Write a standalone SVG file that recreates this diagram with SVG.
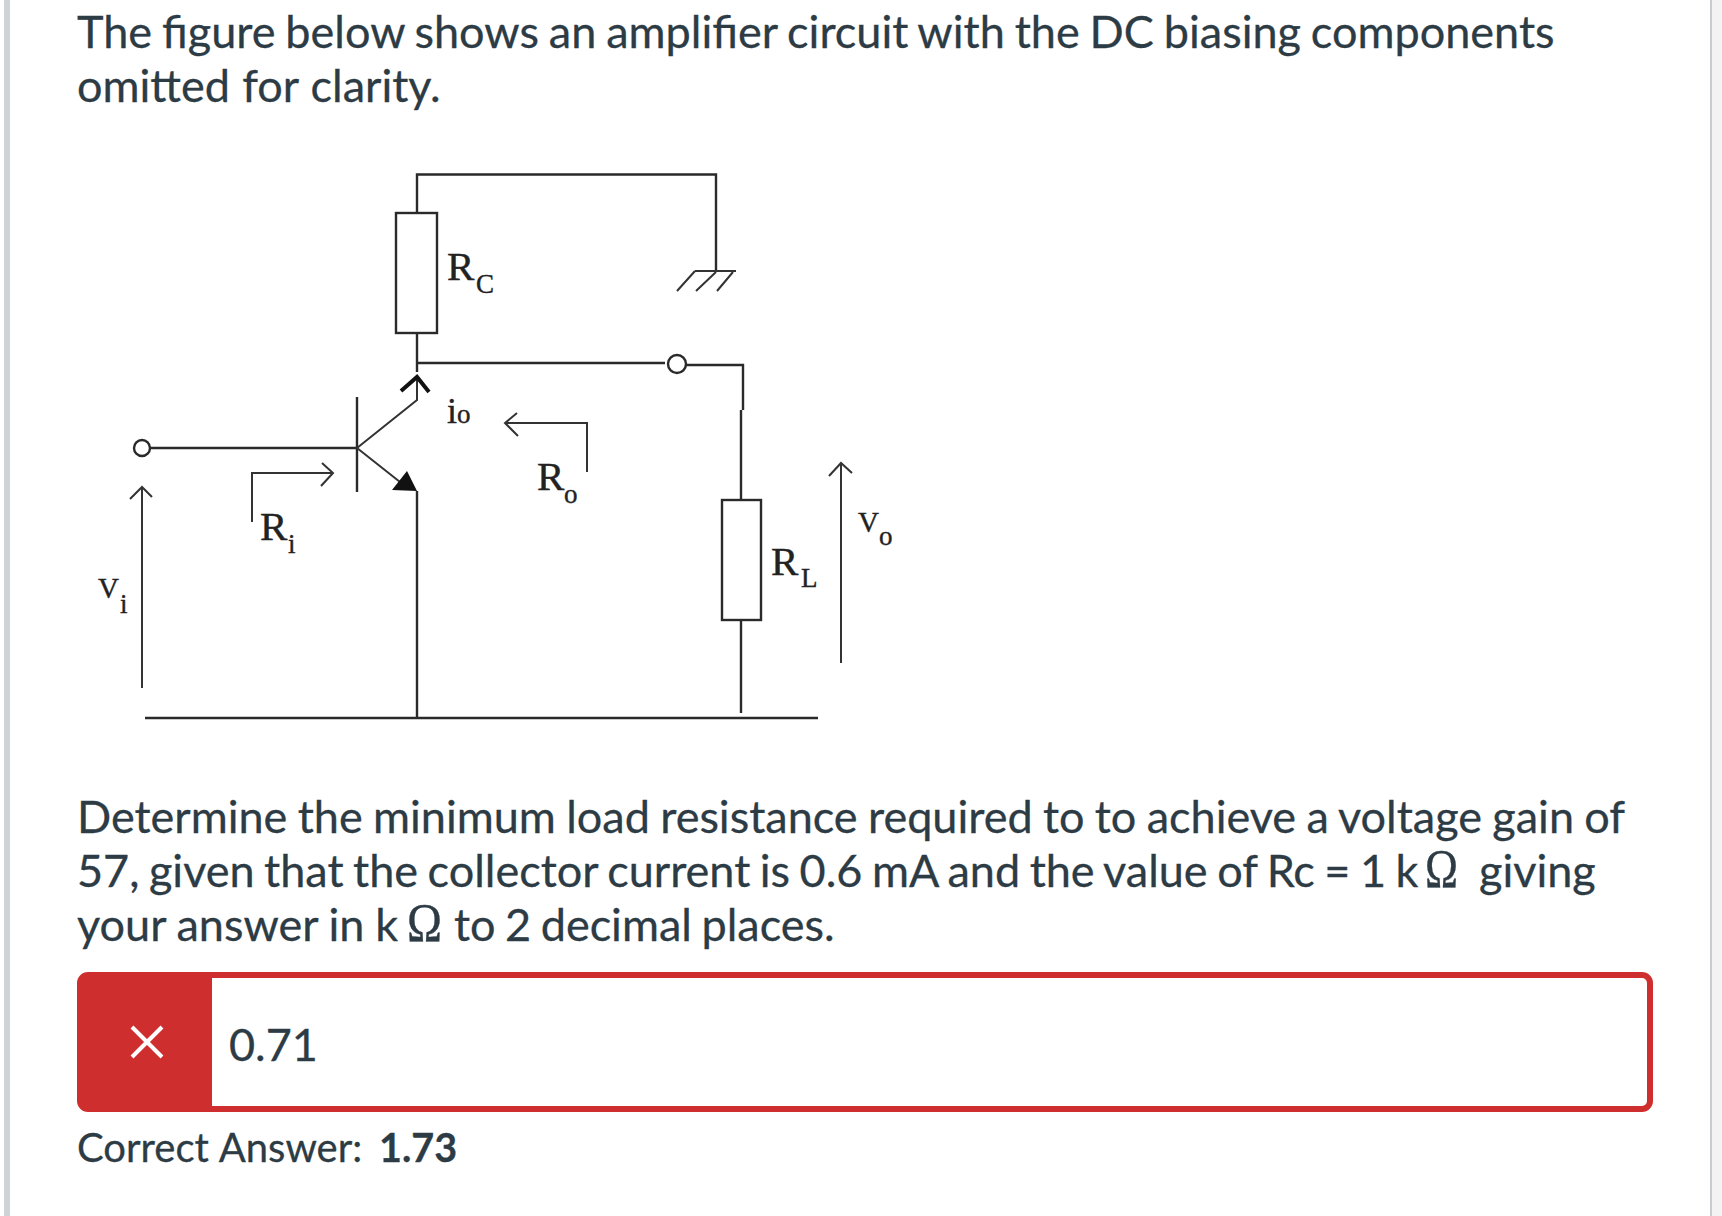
<svg xmlns="http://www.w3.org/2000/svg" width="1722" height="1216" viewBox="0 0 1722 1216">
<style>
.t{font-family:Lato,"Noto Sans",sans-serif;fill:#2d3b45;font-size:45px;word-spacing:-1.4px;stroke:#2d3b45;stroke-width:.3px}
.s{font-family:"Liberation Serif",serif;fill:#222;stroke:#222;stroke-width:.4px}
.o{fill:#2d3b45;stroke:#2d3b45;font-size:55px}
.r{font-size:41px}.u{font-size:27px}
.w{fill:none;stroke:#2a2a2a;stroke-width:2.4}
.a{fill:none;stroke:#333;stroke-width:2}
</style>
<rect width="1722" height="1216" fill="#fff"/>
<g id="frame">
<rect x="4" y="0" width="6" height="1216" fill="#cdd3d6"/>
<rect x="1710" y="0" width="2" height="1216" fill="#c8cccf"/>
<rect x="1712" y="0" width="10" height="1216" fill="#f3f3f3"/>
</g>
<g id="question">
<text class="t" x="77" y="48" style="word-spacing:-1.6px">The figure below shows an amplifier circuit with the DC biasing components</text>
<text class="t" x="77" y="102" style="word-spacing:.8px">omitted for clarity.</text>
<text class="t" x="77" y="833" style="word-spacing:-1.2px">Determine the minimum load resistance required to to achieve a voltage gain of</text>
<text class="t" x="77" y="887" style="word-spacing:-2px">57, given that the collector current is 0.6 mA and the value of Rc = 1 k</text>
<text class="s o" x="1425" y="887" textLength="33" lengthAdjust="spacingAndGlyphs">Ω</text>
<text class="t" x="1479" y="887">giving</text>
<text class="t" x="77" y="941" style="word-spacing:-.7px">your answer in k</text>
<text class="s o" x="407" y="941" textLength="35" lengthAdjust="spacingAndGlyphs">Ω</text>
<text class="t" x="454" y="941" style="word-spacing:-2px">to 2 decimal places.</text>
</g>
<g id="connectors">
<path class="w" d="M417 213V174.500H716V271"/>
<path class="w" d="M417 333V372M417 363H665M686 365H743V410M741 410V500M741 620V713"/>
<path class="w" d="M150 448H357M357 397V492"/>
<path class="a" d="M357 448L417 400V376M357 448L400 482"/>
<path class="w" d="M417 491V718M145 718H818"/>
<path d="M401 391L417 377L429 392" fill="none" stroke="#111" stroke-width="4"/>
<path d="M407 471L392 490L417 491Z" fill="#111"/>
<path class="a" d="M252 522V473H333M322 463L333 473L321 486"/>
<path class="a" d="M142 688V487M130 499L142 487L152 497"/>
<path class="a" d="M587 472V423H505M517 413L505 423L518 436"/>
<path class="a" d="M841 663V463M829 476L841 463L852 473"/>
<path class="a" d="M695 271H736M677 291L695 271M696 291L716 272M717 291L733 272"/>
</g>
<g id="RC"><rect class="w" x="396" y="213" width="41" height="120"/>
<text class="s r" x="447" y="280">R</text><text class="s u" x="476" y="293">C</text></g>
<g id="RL"><rect class="w" x="722" y="500" width="39" height="120"/>
<text class="s r" x="771" y="575">R</text><text class="s u" x="801" y="587">L</text></g>
<g id="input-terminal"><circle class="w" cx="142" cy="448" r="8"/></g>
<g id="output-terminal"><circle class="w" cx="677" cy="364" r="9"/></g>
<g id="labels">
<text class="s" x="447" y="423" style="font-size:36px">i</text><text class="s" x="457" y="423" style="font-size:27px">o</text>
<text class="s r" x="260" y="540">R</text><text class="s u" x="288" y="553">i</text>
<text class="s r" x="537" y="490">R</text><text class="s u" x="564" y="503">o</text>
<text class="s" x="858" y="532" style="font-size:29px">V</text><text class="s u" x="879" y="545">o</text>
<text class="s" x="98" y="598" style="font-size:29px">V</text><text class="s u" x="120" y="613">i</text>
</g>
<g id="answer">
<rect x="80" y="975" width="1570" height="134" rx="8" fill="#fff" stroke="#cf2e2e" stroke-width="6"/>
<path d="M83 978H212V1106H83Z" fill="#cf2e2e"/>
<path d="M132 1027L162 1057M162 1027L132 1057" stroke="#fff" stroke-width="4" fill="none"/>
<text class="t" x="229" y="1061">0.71</text>
<text class="t" x="77" y="1162" style="font-size:40px;word-spacing:1px">Correct Answer:</text>
<text class="t" x="379" y="1162" style="font-size:39.500px;font-weight:700">1.73</text>
</g>
</svg>
